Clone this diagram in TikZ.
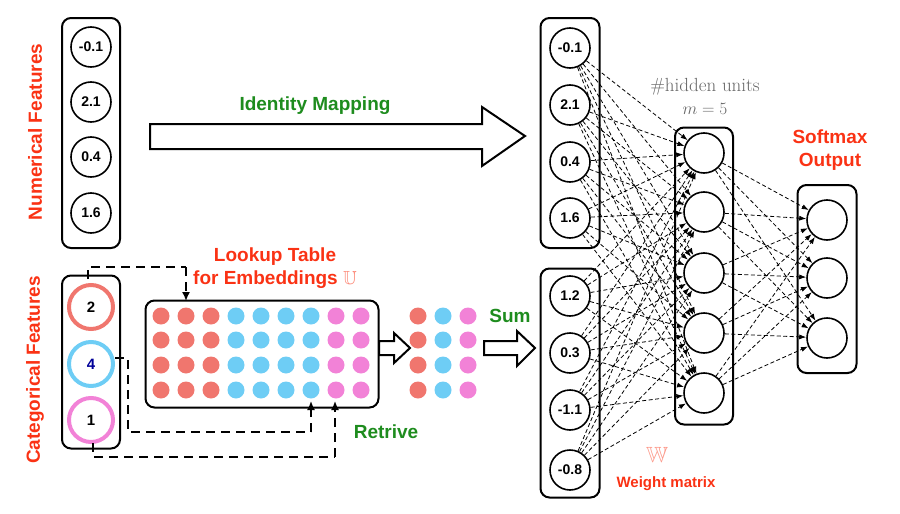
\documentclass[tikz,border=0pt]{standalone}
\usepackage{amssymb}
\usepackage{fontspec}
\newfontfamily\sansb{Liberation Sans}
\usetikzlibrary{arrows.meta}
\definecolor{cr}{RGB}{240,118,110}
\definecolor{cb}{RGB}{110,205,245}
\definecolor{cp}{RGB}{242,130,215}
\definecolor{tred}{RGB}{250,50,20}
\definecolor{tgreen}{RGB}{30,140,30}
\begin{document}
\begin{tikzpicture}[x=1pt,y=-1pt,
 box/.style={draw,line width=2pt,rounded corners=9pt},
 neu/.style={draw,circle,line width=1.6pt,minimum size=40pt,inner sep=0pt,font=\sansb\bfseries\fontsize{14}{15}\selectfont},
 cat/.style={draw=#1,circle,line width=4pt,minimum size=44pt,inner sep=0pt,font=\sansb\bfseries\fontsize{15}{16}\selectfont},
 dot/.style={circle,fill=#1,minimum size=17pt,inner sep=0pt},
 lab/.style={font=\sansb\bfseries\fontsize{19}{23}\selectfont},
 dl/.style={line width=1.6pt,dash pattern=on 9pt off 6pt},
 ed/.style={line width=0.8pt,dash pattern=on 4pt off 2.5pt,-{Latex[length=7pt,width=5pt]}},
 fat/.style={draw,line width=2pt,fill=white}]
\useasboundingbox (0,0) rectangle (900,514);
% left numeric
\node[box,minimum width=58pt,minimum height=230pt] (lnb) at (91,133) {};
\foreach \v/\y/\n in {-0.1/47/a,2.1/102/b,0.4/157/c,1.6/213/d}
  \node[neu] (l\n) at (91,\y) {\v};
\node[lab,text=tred,rotate=90] (numf) at (35,132) {Numerical Features};
% categorical
\node[box,minimum width=58pt,minimum height=173pt] (lcb) at (91,362) {};
\node[cat=cr] (c2) at (91,307) {2};
\node[cat=cb,text=blue!60!black] (c4) at (91,364) {4};
\node[cat=cp] (c1) at (91,420) {1};
\node[lab,text=tred,rotate=90] (catf) at (35,370) {Categorical Features};
% big arrow
\draw[fat] (150,124) -- (482,124) -- (482,107) -- (525,136) -- (482,166) -- (482,149) -- (150,149) -- cycle;
\node[lab,text=tgreen] (idm) at (315,106) {Identity Mapping};
% lookup table
\node[box,minimum width=233pt,minimum height=107pt] (lt) at (262,354) {};
\foreach \c [count=\i from 0] in {cr,cr,cr,cb,cb,cb,cb,cp,cp}
  \foreach \y [count=\j] in {316,340,365,390}
    \node[dot=\c] (t\i-\j) at (161+25*\i,\y) {};
\foreach \c [count=\i from 0] in {cr,cb,cp}
  \foreach \y [count=\j] in {316,340,365,390}
    \node[dot=\c] (s\i-\j) at (418+25*\i,\y) {};
\node[lab,text=tred,align=center] (ltl) at (275,268) {Lookup Table\\for Embeddings $\color{tred!60}\mathbb{U}$};
\draw[fat] (379,341) -- (394,341) -- (394,333) -- (410,348) -- (394,363) -- (394,355) -- (379,355) -- cycle;
\draw[fat] (484,341) -- (517,341) -- (517,331) -- (535,348) -- (517,366) -- (517,355) -- (484,355) -- cycle;
\node[lab,text=tgreen] (sum) at (510,316) {Sum};
\node[lab,text=tgreen] (ret) at (386,432) {Retrive};
% dashed retrieve lines
\coordinate (q0) at (88,279); \coordinate (q1) at (88,267); \coordinate (q2) at (186,267);
\draw[dl] (q0) -- (q1) -- (q2);
\draw[dl,-{Latex[length=9pt,width=8pt]}] (q2) -- (186,301);
\coordinate (r0) at (115,358); \coordinate (r1) at (128,358); \coordinate (r2) at (128,432); \coordinate (r3) at (311,432);
\draw[dl] (r0) -- (r1) -- (r2) -- (r3);
\draw[dl,-{Latex[length=9pt,width=8pt]}] (r3) -- (311,401);
\coordinate (u0) at (93,443); \coordinate (u1) at (93,457); \coordinate (u2) at (335,457);
\draw[dl] (u0) -- (u1) -- (u2);
\draw[dl,-{Latex[length=9pt,width=8pt]}] (u2) -- (335,401);
% right inputs
\node[box,minimum width=59pt,minimum height=230pt] (rnb) at (570,133) {};
\node[box,minimum width=59pt,minimum height=229pt] (rcb) at (570,383) {};
\foreach \v/\y/\n in {-0.1/48/1,2.1/105/2,0.4/162/3,1.6/218/4,1.2/296/5,0.3/353/6,-1.1/410/7,-0.8/470/8}
  \node[neu] (i\n) at (570,\y) {\v};
% hidden
\node[box,minimum width=58pt,minimum height=297pt] (hb) at (704,276) {};
\foreach \y [count=\k] in {153,212,273,333,393}
  \node[neu] (h\k) at (704,\y) {};
\node[font=\fontsize{19}{23}\selectfont,text=black!60,align=center] (hu) at (705,96) {\#hidden units\\$m=5$};
% output
\node[box,minimum width=59pt,minimum height=188pt] (ob) at (827,279) {};
\foreach \y [count=\k] in {220,278,338}
  \node[neu] (o\k) at (827,\y) {};
\node[lab,text=tred,align=center] (smo) at (830,150) {Softmax\\Output};
\node[font=\fontsize{22}{24}\selectfont,text=tred!50] (wm) at (657,455) {$\mathbb{W}$};
\node[font=\sansb\bfseries\fontsize{15}{17}\selectfont,text=tred] (wml) at (666,484) {Weight matrix};
% edges
\foreach \i in {1,...,8} \foreach \k in {1,...,5} \draw[ed] (i\i) -- (h\k);
\foreach \k in {1,...,5} \foreach \o in {1,2,3} \draw[ed] (h\k) -- (o\o);
\end{tikzpicture}
\end{document}
